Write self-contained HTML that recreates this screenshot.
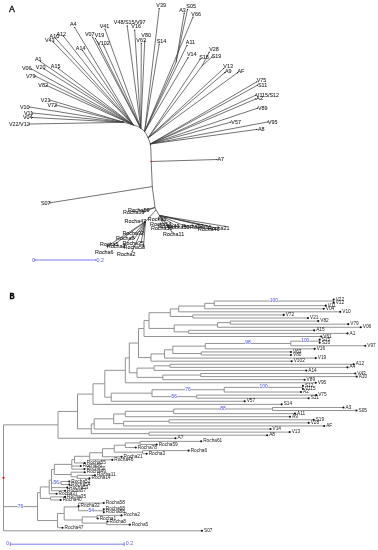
<!DOCTYPE html>
<html><head><meta charset="utf-8"><style>
html,body{margin:0;padding:0;background:#fff;}
body{width:378px;height:550px;overflow:hidden;}
svg{display:block;}
text{font-family:"Liberation Sans",Arial,sans-serif;}
.tb text{font-size:4.75px;fill:#1a1a1a;}
.ta text{font-size:5.4px;fill:#111;stroke:#111;stroke-width:0.04px;}
.bl text{font-size:4.9px;fill:#4646ee;text-anchor:middle;}
.sc text{font-size:5.3px;fill:#5a5af0;}
.hd{font-size:8.8px;fill:#000;stroke:#000;stroke-width:0.3px;}
</style></head><body>
<svg width="378" height="550" viewBox="0 0 378 550">
<rect width="378" height="550" fill="#fff"/>
<text class="hd" x="8.9" y="11.9">A</text>
<text class="hd" transform="translate(9.5 298.5) scale(0.82 1)" font-weight="bold">B</text>
<path d="M124 122.3 L133.3 125 L137.5 126.3 L140.8 128.3 L143 130 L144.6 131.5 L146.5 134.5 L148 138 L149.4 141 L150.3 144 L150.9 150 L151.2 161.5 L152.3 187 L155 207.5 M176 62.5 L144.6 131.5 M202 66 L148 138 M74.7 27.5 L133.3 125 M63.3 36 L133.3 125 M55.8 38.5 L133.3 125 M53.3 42 L133.3 125 M82.5 50.3 L133.3 125 M40.3 61.5 L133.3 125 M44.2 69 L133.3 125 M58.3 68.5 L133.3 125 M31.5 69 L133.3 125 M35 76 L133.3 125 M46.7 85.5 L133.3 125 M49.7 100 L124 122.3 M55.8 105 L124 122.3 M29.5 107 L124 122.3 M32.5 113 L124 122.3 M32.5 117.5 L124 122.3 M29.5 124 L124 122.3 M92.5 37 L140.8 128.3 M95.5 38.5 L140.8 128.3 M103.8 45.8 L140.8 128.3 M105 29 L140.8 128.3 M127.2 25.8 L140.8 128.3 M134.7 30 L140.8 128.3 M141.3 43.3 L140.8 128.3 M144.7 41.5 L140.8 128.3 M159.2 8.5 L144.6 131.5 M159.2 44 L144.6 131.5 M184.2 13.2 L176 62.5 M187.5 9.4 L176 62.5 M193 17 L144.6 131.5 M187 45.3 L144.6 131.5 M188 57.7 L144.6 131.5 M200 59.4 L148 138 M209.2 52.2 L202 66 M212 56.9 L202 66 M223.7 68.5 L148 138 M224.7 72.7 L148 138 M237.5 72.7 L148 138 M256.7 81.9 L150.3 144 M257.5 85.2 L150.3 144 M255.8 95.2 L150.3 144 M255.8 98.9 L150.3 144 M257.5 108.2 L150.3 144 M230.8 122.2 L150.3 144 M268 121.9 L150.3 144 M257 129.4 L150.3 144 M217 159.5 L151.2 161.5 M50 202.8 L152.6 186.5 M155 207.5 L156 210 M156 210 L145.5 221.5 M156 210 L159.5 215.5 M144.2 210 L155 207.5 M143.5 212 L155 207.5 M145 221.3 L145.5 221.5 M142 233.8 L145.5 221.5 M134.5 238.5 L145.5 221.5 M141 242.5 L145.5 221.5 M114.5 244.3 L145.5 221.5 M123 246.8 L145.5 221.5 M143.5 246.8 L145.5 221.5 M107 246.5 L145.5 221.5 M132 252 L145.5 221.5 M158.5 219.5 L159.5 215.5 M163 223.5 L159.5 215.5 M170 227.5 L159.5 215.5 M176 226 L159.5 215.5 M172 232 L159.5 215.5 M186 226.5 L159.5 215.5 M198 224.5 L159.5 215.5 M206 225.5 L159.5 215.5 M214 227.5 L159.5 215.5 M226 226.5 L159.5 215.5" stroke="#3c3c3c" stroke-width="0.72" fill="none"/><g class="ta"><text x="70" y="26.3">A4</text><text x="56.5" y="35.5">A12</text><text x="49.6" y="38">A10</text><text x="45" y="41.5">V43</text><text x="75.8" y="49.7">A14</text><text x="35" y="61">A1</text><text x="35.8" y="69.3">V20</text><text x="50.8" y="68">A15</text><text x="22" y="69.7">V06</text><text x="26" y="77.5">V79</text><text x="38.3" y="86.7">V82</text><text x="40.8" y="101.7">V21</text><text x="47.5" y="107.2">V72</text><text x="20" y="108.7">V10</text><text x="24" y="114.7">V11</text><text x="23" y="118.7">V04</text><text x="9" y="125.7">V22/V12</text><text x="85" y="35.7">V07</text><text x="94.7" y="36.8">V19</text><text x="97.2" y="44.7">V102</text><text x="99.7" y="27.7">V41</text><text x="113.8" y="23.7">V48/S15/V97</text><text x="131.3" y="28">V16</text><text x="136.3" y="42.2">V63</text><text x="141.3" y="36.7">V80</text><text x="156.3" y="6.6">V39</text><text x="156.7" y="42.5">S14</text><text x="179.2" y="12">A3</text><text x="186.3" y="8.3">S05</text><text x="191.3" y="15.8">V66</text><text x="185.8" y="44.2">A11</text><text x="187" y="55.8">V14</text><text x="199.2" y="58.7">S18</text><text x="209.2" y="50.8">V28</text><text x="211.7" y="57.5">S19</text><text x="223.3" y="67.5">V13</text><text x="225" y="73">A9</text><text x="237.5" y="72.5">AF</text><text x="256.7" y="81.8">V75</text><text x="258" y="86.7">S11</text><text x="255.8" y="96.7">V115/S12</text><text x="256.3" y="100.3">A2</text><text x="258" y="110">V89</text><text x="231.3" y="124.2">V57</text><text x="268" y="124">V95</text><text x="258" y="130.8">A8</text><text x="217.5" y="161">A7</text><text x="41" y="205.3">S07</text><text x="128" y="211.7">Rocha59</text><text x="123" y="214.3">Rocha36</text><text x="124.6" y="223.3">Rocha47</text><text x="122.4" y="235.3">Rocha32</text><text x="116" y="240.2">Rocha8</text><text x="122.5" y="244.7">Rocha35</text><text x="100" y="246.1">Rocha5</text><text x="107" y="248.3">Rocha3</text><text x="123.5" y="248.7">Rocha58</text><text x="95" y="253.7">Rocha6</text><text x="117" y="256.3">Rocha2</text><text x="147.8" y="220.7">Rocha1</text><text x="150" y="225.7">Rocha14</text><text x="151" y="229.5">Rocha50</text><text x="158" y="228.2">Rocha49</text><text x="163" y="235.5">Rocha11</text><text x="168" y="229.2">Rocha55</text><text x="182" y="227.7">Rocha53</text><text x="190" y="228.7">Rocha61</text><text x="198" y="231.2">Rocha46</text><text x="208" y="230.2">Rocha21</text></g><g fill="#111"><circle cx="74.7" cy="27.5" r="0.6"/><circle cx="63.3" cy="36" r="0.6"/><circle cx="55.8" cy="38.5" r="0.6"/><circle cx="53.3" cy="42" r="0.6"/><circle cx="82.5" cy="50.3" r="0.6"/><circle cx="40.3" cy="61.5" r="0.6"/><circle cx="44.2" cy="69" r="0.6"/><circle cx="58.3" cy="68.5" r="0.6"/><circle cx="31.5" cy="69" r="0.6"/><circle cx="35" cy="76" r="0.6"/><circle cx="46.7" cy="85.5" r="0.6"/><circle cx="49.7" cy="100" r="0.6"/><circle cx="55.8" cy="105" r="0.6"/><circle cx="29.5" cy="107" r="0.6"/><circle cx="32.5" cy="113" r="0.6"/><circle cx="32.5" cy="117.5" r="0.6"/><circle cx="29.5" cy="124" r="0.6"/><circle cx="92.5" cy="37" r="0.6"/><circle cx="95.5" cy="38.5" r="0.6"/><circle cx="103.8" cy="45.8" r="0.6"/><circle cx="105" cy="29" r="0.6"/><circle cx="127.2" cy="25.8" r="0.6"/><circle cx="134.7" cy="30" r="0.6"/><circle cx="141.3" cy="43.3" r="0.6"/><circle cx="144.7" cy="41.5" r="0.6"/><circle cx="159.2" cy="8.5" r="0.6"/><circle cx="159.2" cy="44" r="0.6"/><circle cx="184.2" cy="13.2" r="0.6"/><circle cx="187.5" cy="9.4" r="0.6"/><circle cx="193" cy="17" r="0.6"/><circle cx="187" cy="45.3" r="0.6"/><circle cx="188" cy="57.7" r="0.6"/><circle cx="200" cy="59.4" r="0.6"/><circle cx="209.2" cy="52.2" r="0.6"/><circle cx="212" cy="56.9" r="0.6"/><circle cx="223.7" cy="68.5" r="0.6"/><circle cx="224.7" cy="72.7" r="0.6"/><circle cx="237.5" cy="72.7" r="0.6"/><circle cx="256.7" cy="81.9" r="0.6"/><circle cx="257.5" cy="85.2" r="0.6"/><circle cx="255.8" cy="95.2" r="0.6"/><circle cx="255.8" cy="98.9" r="0.6"/><circle cx="257.5" cy="108.2" r="0.6"/><circle cx="230.8" cy="122.2" r="0.6"/><circle cx="268" cy="121.9" r="0.6"/><circle cx="257" cy="129.4" r="0.6"/><circle cx="217" cy="159.5" r="0.6"/><circle cx="50" cy="202.8" r="0.6"/><circle cx="144.2" cy="210" r="0.6"/><circle cx="143.5" cy="212" r="0.6"/><circle cx="145" cy="221.3" r="0.6"/><circle cx="142" cy="233.8" r="0.6"/><circle cx="134.5" cy="238.5" r="0.6"/><circle cx="141" cy="242.5" r="0.6"/><circle cx="114.5" cy="244.3" r="0.6"/><circle cx="123" cy="246.8" r="0.6"/><circle cx="143.5" cy="246.8" r="0.6"/><circle cx="107" cy="246.5" r="0.6"/><circle cx="132" cy="252" r="0.6"/><circle cx="158.5" cy="219.5" r="0.6"/><circle cx="163" cy="223.5" r="0.6"/><circle cx="170" cy="227.5" r="0.6"/><circle cx="176" cy="226" r="0.6"/><circle cx="172" cy="232" r="0.6"/><circle cx="186" cy="226.5" r="0.6"/><circle cx="198" cy="224.5" r="0.6"/><circle cx="206" cy="225.5" r="0.6"/><circle cx="214" cy="227.5" r="0.6"/><circle cx="226" cy="226.5" r="0.6"/></g><circle cx="151.3" cy="161.5" r="0.8" fill="#f00000"/>
<path d="M3.5 424.85V530.8M3.5 424.85H58M3.5 506.63H37.5M3.5 530.8H202M58 411.43V438.28M58 411.43H77.5M58 438.28H175.5M77.5 394.07V428.79M77.5 394.07H93M77.5 428.79H91.3M93 383.78V404.36M93 383.78H104.8M93 404.36H281.7M104.8 370.33V397.22M104.8 370.33H125.3M104.8 397.22H111.2M125.3 357.9V382.77M125.3 357.9H129.3M125.3 382.77H315.8M129.3 343.05V372.75M129.3 343.05H138.5M129.3 372.75H137M138.5 328.53V357.57M138.5 328.53H144M138.5 357.57H151M144 320.56V336.51M144 320.56H149M144 336.51H321.3M149 312.7V328.41M149 312.7H170.3M149 328.41H174.2M170.3 308.94V316.46M170.3 308.94H178.7M170.3 316.46H192.8M178.7 306.05V311.84M178.7 306.05H204.7M178.7 311.84H340.3M204.7 303.36V308.75M204.7 303.36H214.2M204.7 308.75H323.8M214.2 301.04V305.67M214.2 301.04H333.7M214.2 305.67H325.8M333.7 299.5V302.58M333.7 299.5H333.7M333.7 302.58H333.7M192.8 314.92V318M192.8 314.92H283.7M192.8 318H308M174.2 324.94V331.88M174.2 324.94H217.5M174.2 331.88H188.7M217.5 322.63V327.26M217.5 322.63H230.3M217.5 327.26H360.8M230.3 321.09V324.17M230.3 321.09H318.3M230.3 324.17H348.3M188.7 330.34V333.42M188.7 330.34H314.2M188.7 333.42H347.5M151 353.95V361.18M151 353.95H164.5M151 361.18H291.7M164.5 349.81V358.1M164.5 349.81H172.8M164.5 358.1H315.8M172.8 346.15V353.47M172.8 346.15H205.3M172.8 353.47H201.2M205.3 343.45V348.84M205.3 343.45H290.8M205.3 348.84H314.7M290.8 341.13V345.76M290.8 341.13H319.7M290.8 345.76H365.3M319.7 339.59V342.68M319.7 339.59H319.7M319.7 342.68H319.7M201.2 351.93V355.01M201.2 351.93H291M201.2 355.01H291M137 368.12V377.37M137 368.12H154M137 377.37H162.8M154 365.81V370.43M154 365.81H170M154 370.43H306.3M170 364.26V367.35M170 364.26H353.7M170 367.35H347.5M162.8 375.06V379.68M162.8 375.06H200.7M162.8 379.68H304.6M200.7 373.52V376.6M200.7 373.52H355.3M200.7 376.6H356.7M111.2 393.18V401.27M111.2 393.18H152M111.2 401.27H244.7M152 389.71V396.65M152 389.71H224.2M152 396.65H196.7M224.2 387.39V392.02M224.2 387.39H302.9M224.2 392.02H301M302.9 385.85V388.94M302.9 385.85H302.9M302.9 388.94H302.9M196.7 395.1V398.19M196.7 395.1H316.2M196.7 398.19H308.7M91.3 423.92V433.65M91.3 423.92H94.2M91.3 433.65H149M94.2 418.81V429.03M94.2 418.81H113.7M94.2 429.03H270.5M113.7 413.99V423.63M113.7 413.99H125.3M113.7 423.63H123.7M125.3 411.29V416.69M125.3 411.29H173.7M125.3 416.69H290M173.7 408.98V413.61M173.7 408.98H272.5M173.7 413.61H295M272.5 407.44V410.52M272.5 407.44H343.5M272.5 410.52H356.5M123.7 421.32V425.94M123.7 421.32H169M123.7 425.94H324.2M169 419.78V422.86M169 419.78H313.7M169 422.86H308.7M149 432.11V435.2M149 432.11H289.7M149 435.2H267.2M37.5 492.68V520.58M37.5 492.68H40.3M37.5 520.58H57.5M40.3 486.93V498.42M40.3 486.93H49.2M40.3 498.42H50.5M49.2 480.08V493.79M49.2 480.08H51.5M49.2 493.79H56.6M51.5 469.45V490.71M51.5 469.45H54.3M51.5 483H61M51.5 487.62H67.3M51.5 490.71H65.1M54.3 464.37V474.52M54.3 464.37H71.8M54.3 474.52H71.1M71.8 459.63V469.12M71.8 459.63H74.5M71.8 466.04H80.8M71.8 469.12H84.5M74.5 456.3V462.95M74.5 456.3H89.7M74.5 462.95H84.8M89.7 452.74V459.87M89.7 452.74H102.5M89.7 459.87H112.3M102.5 448.69V456.78M102.5 448.69H114.2M102.5 456.78H121.6M114.2 445.22V452.16M114.2 445.22H125.3M114.2 452.16H142.5M125.3 442.91V447.53M125.3 442.91H140M125.3 447.53H135.8M140 441.36V444.45M140 441.36H201.2M140 444.45H156.7M142.5 450.62V453.7M142.5 450.62H188.7M142.5 453.7H146.7M71.1 472.2V476.83M71.1 472.2H84.8M71.1 476.83H77.2M77.2 475.29V478.37M77.2 475.29H95M77.2 478.37H89.5M61 481.46V484.54M61 481.46H69.3M61 484.54H69.3M50.5 496.88V499.96M50.5 496.88H65.1M50.5 499.96H60.7M57.5 513.45V527.72M57.5 513.45H64.2M57.5 527.72H62.5M64.2 506.9V520.01M64.2 506.9H78.6M64.2 520.01H82.2M78.6 503.04V510.75M78.6 503.04H103.8M78.6 506.13H78.6M78.6 510.75H103.8M103.8 509.21V512.3M103.8 509.21H103.8M103.8 512.3H103.8M82.2 516.92V523.09M82.2 516.92H97M82.2 523.09H106.6M97 515.38V518.46M97 515.38H121.5M97 518.46H97.7M106.6 521.55V524.63M106.6 521.55H107.6M106.6 524.63H129.8" stroke="#939393" stroke-width="1" fill="none"/>
<g fill="#111"><circle cx="333.7" cy="299.5" r="1.05"/><circle cx="333.7" cy="302.58" r="1.05"/><circle cx="325.8" cy="305.67" r="1.05"/><circle cx="323.8" cy="308.75" r="1.05"/><circle cx="340.3" cy="311.84" r="1.05"/><circle cx="283.7" cy="314.92" r="1.05"/><circle cx="308" cy="318" r="1.05"/><circle cx="318.3" cy="321.09" r="1.05"/><circle cx="348.3" cy="324.17" r="1.05"/><circle cx="360.8" cy="327.26" r="1.05"/><circle cx="314.2" cy="330.34" r="1.05"/><circle cx="347.5" cy="333.42" r="1.05"/><circle cx="321.3" cy="336.51" r="1.05"/><circle cx="319.7" cy="339.59" r="1.05"/><circle cx="319.7" cy="342.68" r="1.05"/><circle cx="365.3" cy="345.76" r="1.05"/><circle cx="314.7" cy="348.84" r="1.05"/><circle cx="291" cy="351.93" r="1.05"/><circle cx="291" cy="355.01" r="1.05"/><circle cx="315.8" cy="358.1" r="1.05"/><circle cx="291.7" cy="361.18" r="1.05"/><circle cx="353.7" cy="364.26" r="1.05"/><circle cx="347.5" cy="367.35" r="1.05"/><circle cx="306.3" cy="370.43" r="1.05"/><circle cx="355.3" cy="373.52" r="1.05"/><circle cx="356.7" cy="376.6" r="1.05"/><circle cx="304.6" cy="379.68" r="1.05"/><circle cx="315.8" cy="382.77" r="1.05"/><circle cx="302.9" cy="385.85" r="1.05"/><circle cx="302.9" cy="388.94" r="1.05"/><circle cx="301" cy="392.02" r="1.05"/><circle cx="316.2" cy="395.1" r="1.05"/><circle cx="308.7" cy="398.19" r="1.05"/><circle cx="244.7" cy="401.27" r="1.05"/><circle cx="281.7" cy="404.36" r="1.05"/><circle cx="343.5" cy="407.44" r="1.05"/><circle cx="356.5" cy="410.52" r="1.05"/><circle cx="295" cy="413.61" r="1.05"/><circle cx="290" cy="416.69" r="1.05"/><circle cx="313.7" cy="419.78" r="1.05"/><circle cx="308.7" cy="422.86" r="1.05"/><circle cx="324.2" cy="425.94" r="1.05"/><circle cx="270.5" cy="429.03" r="1.05"/><circle cx="289.7" cy="432.11" r="1.05"/><circle cx="267.2" cy="435.2" r="1.05"/><circle cx="175.5" cy="438.28" r="1.05"/><circle cx="201.2" cy="441.36" r="1.05"/><circle cx="156.7" cy="444.45" r="1.05"/><circle cx="135.8" cy="447.53" r="1.05"/><circle cx="188.7" cy="450.62" r="1.05"/><circle cx="146.7" cy="453.7" r="1.05"/><circle cx="121.6" cy="456.78" r="1.05"/><circle cx="112.3" cy="459.87" r="1.05"/><circle cx="84.8" cy="462.95" r="1.05"/><circle cx="80.8" cy="466.04" r="1.05"/><circle cx="84.5" cy="469.12" r="1.05"/><circle cx="84.8" cy="472.2" r="1.05"/><circle cx="95" cy="475.29" r="1.05"/><circle cx="89.5" cy="478.37" r="1.05"/><circle cx="69.3" cy="481.46" r="1.05"/><circle cx="69.3" cy="484.54" r="1.05"/><circle cx="67.3" cy="487.62" r="1.05"/><circle cx="65.1" cy="490.71" r="1.05"/><circle cx="56.6" cy="493.79" r="1.05"/><circle cx="65.1" cy="496.88" r="1.05"/><circle cx="60.7" cy="499.96" r="1.05"/><circle cx="103.8" cy="503.04" r="1.05"/><circle cx="78.6" cy="506.13" r="1.05"/><circle cx="103.8" cy="509.21" r="1.05"/><circle cx="103.8" cy="512.3" r="1.05"/><circle cx="121.5" cy="515.38" r="1.05"/><circle cx="97.7" cy="518.46" r="1.05"/><circle cx="107.6" cy="521.55" r="1.05"/><circle cx="129.8" cy="524.63" r="1.05"/><circle cx="62.5" cy="527.72" r="1.05"/><circle cx="202" cy="530.8" r="1.05"/></g>
<g class="tb"><text x="335.7" y="300.6">V22</text><text x="335.7" y="303.68">V12</text><text x="327.8" y="306.77">V11</text><text x="325.8" y="309.85">V04</text><text x="342.3" y="312.94">V10</text><text x="285.7" y="316.02">V72</text><text x="310" y="319.1">V21</text><text x="320.3" y="322.19">V82</text><text x="350.3" y="325.27">V79</text><text x="362.8" y="328.36">V06</text><text x="316.2" y="331.44">A15</text><text x="349.5" y="334.52">A1</text><text x="323.3" y="337.61">V61</text><text x="321.7" y="340.69">S15</text><text x="321.7" y="343.78">S16</text><text x="367.3" y="346.86">V97</text><text x="316.7" y="349.94">V16</text><text x="293" y="353.03">V63</text><text x="293" y="356.11">V80</text><text x="317.8" y="359.2">V19</text><text x="293.7" y="362.28">V102</text><text x="355.7" y="365.36">A12</text><text x="349.5" y="368.45">A4</text><text x="308.3" y="371.53">A14</text><text x="357.3" y="374.62">V43</text><text x="358.7" y="377.7">A10</text><text x="306.6" y="380.78">V89</text><text x="317.8" y="383.87">V95</text><text x="304.9" y="386.95">S12</text><text x="304.9" y="390.04">V115</text><text x="303" y="393.12">A2</text><text x="318.2" y="396.2">V75</text><text x="310.7" y="399.29">S11</text><text x="246.7" y="402.37">V57</text><text x="283.7" y="405.46">S14</text><text x="345.5" y="408.54">A3</text><text x="358.5" y="411.62">S05</text><text x="297" y="414.71">A11</text><text x="292" y="417.79">A9</text><text x="315.7" y="420.88">S19</text><text x="310.7" y="423.96">V28</text><text x="326.2" y="427.04">AF</text><text x="272.5" y="430.13">V14</text><text x="291.7" y="433.21">V13</text><text x="269.2" y="436.3">A8</text><text x="177.5" y="439.38">A7</text><text x="203.2" y="442.46">Rocha61</text><text x="158.7" y="445.55">Rocha59</text><text x="137.8" y="448.63">Rocha78</text><text x="190.7" y="451.72">Rocha6</text><text x="148.7" y="454.8">Rocha3</text><text x="123.6" y="457.88">Rocha21</text><text x="114.3" y="460.97">Rocha46</text><text x="86.8" y="464.05">Rocha55</text><text x="82.8" y="467.14">Rocha56</text><text x="86.5" y="470.22">Rocha50</text><text x="86.8" y="473.3">Rocha49</text><text x="97" y="476.39">Rocha11</text><text x="91.5" y="479.47">Rocha14</text><text x="71.3" y="482.56">Rocha52</text><text x="71.3" y="485.64">Rocha54</text><text x="69.3" y="488.72">Rocha53</text><text x="67.1" y="491.81">Rocha57</text><text x="58.6" y="494.89">Rocha37</text><text x="67.1" y="497.98">Rocha35</text><text x="62.7" y="501.06">Rocha40</text><text x="105.8" y="504.14">Rocha58</text><text x="80.6" y="507.23">Rocha32</text><text x="105.8" y="510.31">Rocha68</text><text x="105.8" y="513.4">Rocha88</text><text x="123.5" y="516.48">Rocha2</text><text x="99.7" y="519.56">Rocha1</text><text x="109.6" y="522.65">Rocha8</text><text x="131.8" y="525.73">Rocha5</text><text x="64.5" y="528.82">Rocha47</text><text x="204" y="531.9">S07</text></g>
<g class="bl"><rect x="17.68" y="504.03" width="5.65" height="3.9" fill="#fff"/><text x="20.5" y="507.63">76</text><rect x="269.76" y="298.44" width="8.37" height="3.9" fill="#fff"/><text x="273.95" y="302.04">100</text><rect x="245.23" y="340.85" width="5.65" height="3.9" fill="#fff"/><text x="248.05" y="344.45">98</text><rect x="301.06" y="338.53" width="8.37" height="3.9" fill="#fff"/><text x="305.25" y="342.13">100</text><rect x="185.28" y="387.11" width="5.65" height="3.9" fill="#fff"/><text x="188.1" y="390.71">76</text><rect x="171.53" y="394.05" width="5.65" height="3.9" fill="#fff"/><text x="174.35" y="397.65">56</text><rect x="259.36" y="384.79" width="8.37" height="3.9" fill="#fff"/><text x="263.55" y="388.39">100</text><rect x="220.28" y="406.38" width="5.65" height="3.9" fill="#fff"/><text x="223.1" y="409.98">88</text><rect x="53.43" y="480.4" width="5.65" height="3.9" fill="#fff"/><text x="56.25" y="484">56</text><rect x="88.38" y="508.15" width="5.65" height="3.9" fill="#fff"/><text x="91.2" y="511.75">54</text></g>
<circle cx="3.5" cy="477.83" r="1.1" fill="#f00000"/>
<g stroke="#6e6ef0" stroke-width="0.9" fill="none">
<path d="M35 260H96"/><path d="M10.3 544.2H124.2M10.3 542.2V546M124.2 542.2V546"/></g>
<g fill="#6e6ef0" stroke="none"><circle cx="35" cy="260" r="0.8"/><circle cx="96" cy="260" r="0.8"/></g>
<g class="sc"><text x="32" y="261.8">0</text><text x="96.6" y="261.8">0.2</text>
<text x="6.2" y="544.8">0</text><text x="125.8" y="544.8">0.2</text></g>
</svg></body></html>
